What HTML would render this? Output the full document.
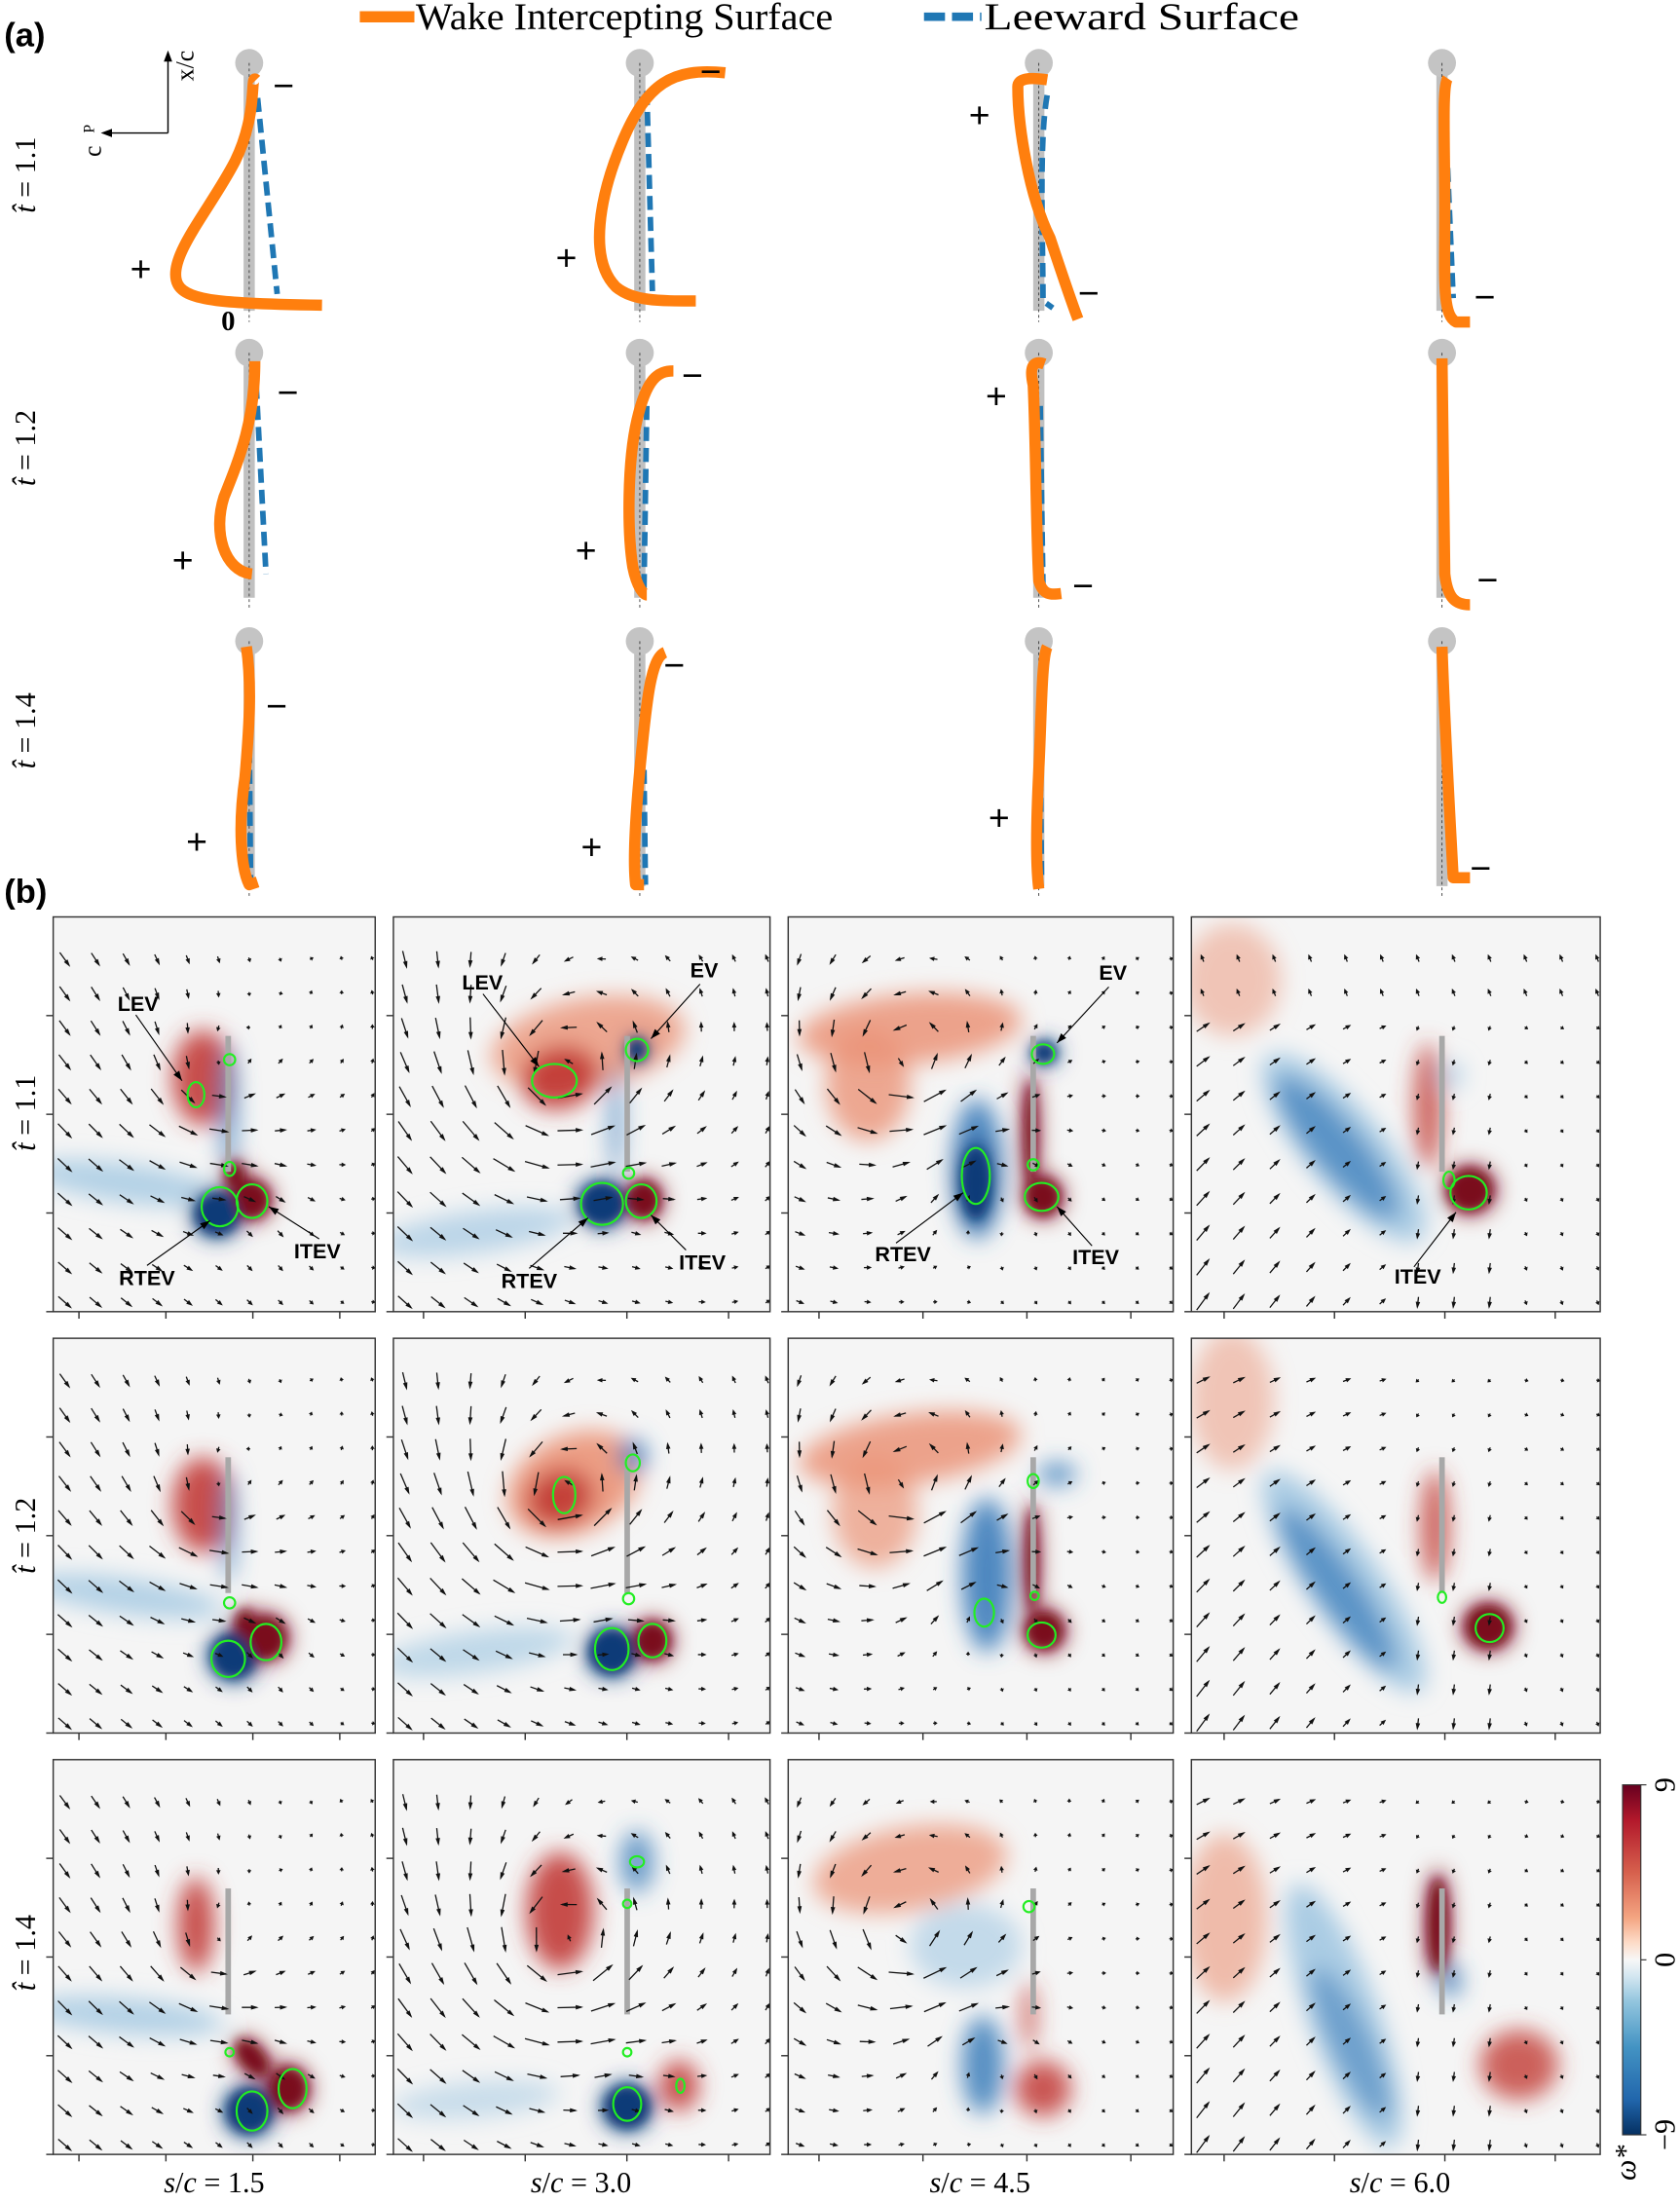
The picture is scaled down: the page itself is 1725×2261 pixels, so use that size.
<!DOCTYPE html>
<html><head><meta charset="utf-8"><style>
html,body{margin:0;padding:0;background:#fff;}
svg{display:block;}
</style></head><body>
<svg id="S" xmlns="http://www.w3.org/2000/svg" width="1725" height="2261" viewBox="0 0 1200 1573" preserveAspectRatio="none">
<defs>
<filter id="bl" x="-50%" y="-50%" width="200%" height="200%"><feGaussianBlur stdDeviation="8"/></filter>
<filter id="bs" x="-50%" y="-50%" width="200%" height="200%"><feGaussianBlur stdDeviation="4"/></filter>
<linearGradient id="cb" x1="0" y1="0" x2="0" y2="1">
<stop offset="0" stop-color="#67001f"/><stop offset="0.1" stop-color="#b2182b"/><stop offset="0.25" stop-color="#d6604d"/><stop offset="0.38" stop-color="#f4a582"/><stop offset="0.45" stop-color="#fddbc7"/><stop offset="0.5" stop-color="#f7f7f7"/><stop offset="0.55" stop-color="#d1e5f0"/><stop offset="0.62" stop-color="#92c5de"/><stop offset="0.75" stop-color="#4393c3"/><stop offset="0.9" stop-color="#2166ac"/><stop offset="1" stop-color="#053061"/>
</linearGradient>
</defs>
<g font-family="Liberation Serif, serif" fill="#000">
<text x="3" y="33" font-family="Liberation Sans, sans-serif" font-weight="bold" font-size="24">(a)</text>
<text x="3" y="645" font-family="Liberation Sans, sans-serif" font-weight="bold" font-size="24">(b)</text>
<line x1="257" y1="12" x2="296" y2="12" stroke="#ff7f0e" stroke-width="8"/>
<text x="297" y="21" font-size="27" textLength="298" lengthAdjust="spacingAndGlyphs">Wake Intercepting Surface</text>
<line x1="660" y1="12" x2="701" y2="12" stroke="#1f77b4" stroke-width="6" stroke-dasharray="15,5"/>
<text x="703" y="21" font-size="27" textLength="225" lengthAdjust="spacingAndGlyphs">Leeward Surface</text>
</g>
<g id="A"></g>
<g id="B"></g>
</svg>
<script>
var NS="http://www.w3.org/2000/svg";
function el(p,t,a,txt){var e=document.createElementNS(NS,t);for(var k in a)e.setAttribute(k,a[k]);if(txt!==undefined)e.textContent=txt;p.appendChild(e);return e;}
var A=document.getElementById('A'),B=document.getElementById('B');
function rlab(p,x,y,v){var g=el(p,'g',{transform:'translate('+x+','+y+') rotate(-90)'});
 var t=el(g,'text',{x:0,y:0,'text-anchor':'middle','font-family':'Liberation Serif, serif','font-size':'21'});
 el(t,'tspan',{'font-style':'italic'},'\u0074\u0302');el(t,'tspan',{},' = '+v);}
rlab(A,25,125,'1.1');rlab(A,25,320,'1.2');rlab(A,25,522,'1.4');
rlab(B,25,795,'1.1');rlab(B,25,1097,'1.2');rlab(B,25,1395,'1.4');
var px=[178,457,742,1030],rowsA=[[45,225],[252,430],[458,636]];
var OR={
'0,0':'M183,57 C178,52 185,80 168,115 C150,150 118,185 127,203 C133,215 160,217 230,218',
'0,1':'M518,52 C480,48 462,60 445,100 C428,140 420,185 440,205 C452,215 470,215 497,215',
'0,2':'M748,57 C735,55 727,56 727,62 C727,90 735,140 750,170 C760,200 765,215 770,228',
'0,3':'M1034,56 C1030,62 1032,100 1032,150 C1032,200 1030,225 1040,230 L1050,230',
'1,0':'M182,258 C182,300 172,325 160,355 C152,380 160,408 180,410',
'1,1':'M481,265 C470,265 462,270 455,300 C448,330 448,380 452,405 C455,420 460,425 462,425',
'1,2':'M746,260 C738,257 735,262 738,275 C740,320 740,380 742,415 C745,425 750,425 758,424',
'1,3':'M1030,256 C1031,300 1031,370 1032,410 C1034,428 1040,432 1050,432',
'2,0':'M176,462 C180,490 178,520 175,555 C170,590 172,620 178,632 L184,630',
'2,1':'M475,466 C465,470 462,500 458,540 C454,580 452,615 454,632 L460,632',
'2,2':'M748,462 C744,470 744,510 742,550 C740,590 740,620 742,635',
'2,3':'M1030,462 C1032,520 1036,590 1038,627 L1050,627'};
var BL={'0,0':'M184,70 L198,210','0,1':'M462,65 L466,208','0,2':'M748,68 C742,100 745,170 745,215 L752,220','0,3':'M1034,120 L1038,213',
'1,0':'M183,275 L190,410','1,1':'M462,290 L460,420','1,2':'M743,290 L745,420','1,3':'M1031,330 L1034,425',
'2,0':'M178,520 L179,632','2,1':'M460,550 L461,632','2,2':'M743,540 L744,630','2,3':'M1033,560 L1036,625'};
for(var r=0;r<3;r++)for(var c=0;c<4;c++){
 var x=px[c],t=rowsA[r][0],b=rowsA[r][1];
 el(A,'rect',{x:x-4,y:t,width:8,height:b-t-3,fill:'#c0c0c0'});
 el(A,'circle',{cx:x,cy:t,r:10,fill:'#c4c4c4'});
 el(A,'line',{x1:x,y1:t,x2:x,y2:b+5,stroke:'#333','stroke-width':0.6,'stroke-dasharray':'2,2'});
 el(A,'path',{d:BL[r+','+c],fill:'none',stroke:'#1f77b4','stroke-width':4,'stroke-dasharray':'10,5'});
 el(A,'path',{d:OR[r+','+c],fill:'none',stroke:'#ff7f0e','stroke-width':8,'stroke-linejoin':'round'});
}
var signs=[['−',195,70],['+',93,201],['−',500,60],['+',397,193],['+',692,91],['−',770,218],['−',1053,221],
['−',198,289],['+',123,409],['−',487,277],['+',411,402],['+',704,292],['−',766,427],['−',1055,423],
['−',190,513],['+',133,610],['−',474,484],['+',415,614],['+',706,593],['−',1050,629]];
signs.forEach(function(s){el(A,'text',{x:s[1],y:s[2],'font-family':'Liberation Sans, sans-serif','font-size':'26'},s[0]);});
el(A,'text',{x:158,y:236,'font-family':'Liberation Serif, serif','font-weight':'bold','font-size':'20'},'0');
el(A,'path',{d:'M120,95 L120,42 M120,95 L78,95',stroke:'#000','stroke-width':1,fill:'none'});
el(A,'path',{d:'M117,44 L120,36 L123,44Z M80,92 L72,95 L80,98Z',fill:'#000'});
var g1=el(A,'g',{transform:'translate(138,40) rotate(-90)'});el(g1,'text',{x:-18,y:0,'font-family':'Liberation Serif, serif','font-size':'18'},'x/c');
var g2=el(A,'g',{transform:'translate(72,112) rotate(-90)'});el(g2,'text',{x:0,y:0,'font-family':'Liberation Serif, serif','font-size':'18'},'c');
el(A,'text',{x:67,y:95,'font-family':'Liberation Serif, serif','font-size':'11',transform:'rotate(-90 67 95)'},'P');
var cols=[[38,268],[281,550],[563,838],[851,1143]],rows=[[655,937],[956,1238],[1257,1539]];
var plx=[163,448,738,1030];
var DR='#7a0a1c',RD='#c23b36',LR='#eb9478',DB='#0b3a78',BU='#3a7cba',LB='#a2c8e2';
var blobs={
'0,0':[[90,845,70,14,8,LB,0.8],[145,770,22,34,0,RD,0.9],[163,790,6,45,0,BU,0.8],[155,867,18,17,0,DB,1],[180,857,14,15,0,DR,1],[168,840,8,12,0,DR,0.8]],
'0,1':[[340,880,70,15,-8,LB,0.7],[420,745,70,32,-10,LR,0.8],[400,770,28,22,-15,RD,0.95],[455,750,8,10,0,DB,0.9],[440,800,5,40,0,BU,0.7],[430,860,18,17,0,DB,1],[460,857,13,15,0,DR,1]],
'0,2':[[650,735,80,25,-5,LR,0.85],[620,775,30,40,0,LR,0.8],[698,835,18,50,0,BU,0.9],[697,845,12,30,0,DB,0.9],[736,810,5,45,0,DR,1],[746,752,10,9,0,DB,0.9],[745,855,14,15,0,DR,1]],
'0,3':[[880,700,35,40,0,LR,0.5],[960,820,28,85,-40,LB,0.9],[955,820,18,65,-40,BU,0.7],[1020,790,10,45,0,RD,0.8],[1050,850,18,17,0,DR,1],[1037,768,8,10,0,LB,0.7]],
'1,0':[[90,1140,70,13,8,LB,0.8],[145,1075,22,34,0,RD,0.9],[163,1090,5,40,0,BU,0.8],[167,1183,18,18,0,DB,1],[190,1170,16,17,0,DR,1],[175,1160,8,12,0,DR,0.8]],
'1,1':[[340,1180,70,15,-8,LB,0.65],[410,1060,50,35,-25,LR,0.9],[400,1070,24,20,-20,RD,0.95],[452,1040,10,12,0,BU,0.9],[437,1180,18,18,0,DB,1],[466,1172,14,15,0,DR,1]],
'1,2':[[650,1035,80,25,-8,LR,0.85],[625,1080,30,40,0,LR,0.7],[705,1125,18,55,0,BU,0.9],[737,1115,5,45,0,DR,0.9],[746,1165,15,15,0,DR,1],[755,1053,14,8,0,BU,0.8]],
'1,3':[[880,1000,30,50,0,LR,0.5],[960,1130,26,95,-35,LB,0.9],[955,1135,16,70,-35,BU,0.7],[1025,1090,10,40,0,RD,0.8],[1063,1162,18,17,0,DR,1]],
'2,0':[[90,1440,70,13,5,LB,0.8],[140,1375,13,34,0,RD,0.9],[180,1470,10,18,-40,DR,0.8],[178,1508,18,18,0,DB,1],[206,1492,15,17,0,DR,1]],
'2,1':[[340,1500,60,13,-5,LB,0.55],[400,1365,24,42,0,RD,0.9],[455,1330,12,22,0,BU,0.75],[448,1505,18,17,0,DB,1],[485,1490,14,18,0,RD,0.9]],
'2,2':[[650,1335,70,30,-10,LR,0.75],[690,1390,40,30,0,LB,0.6],[702,1475,15,35,0,BU,0.85],[735,1440,5,25,0,RD,0.8],[745,1492,20,20,0,RD,0.85]],
'2,3':[[875,1370,30,60,0,LR,0.6],[960,1440,25,100,-20,LB,0.9],[965,1460,15,60,-25,BU,0.55],[1027,1375,8,40,0,DR,0.9],[1085,1475,28,25,0,RD,0.8],[1036,1415,8,12,0,BU,0.8]]};
var greens={
'0,0':[[140,782,6,9],[157,862,13,14],[180,858,11,12],[164,757,4,4],[164,835,4,5]],
'0,1':[[396,772,16,12],[455,750,8,8],[430,860,15,15],[458,858,11,12],[449,838,4,4]],
'0,2':[[697,840,10,20],[745,753,8,7],[744,855,12,10],[738,832,4,4]],
'0,3':[[1049,852,13,12],[1035,843,4,6]],
'1,0':[[164,1145,4,4],[163,1185,12,13],[190,1173,11,13]],
'1,1':[[403,1068,8,13],[452,1045,5,6],[437,1178,12,15],[466,1172,10,12],[449,1142,4,4]],
'1,2':[[703,1152,7,10],[744,1168,10,9],[738,1058,4,5],[739,1140,3,3]],
'1,3':[[1064,1163,10,10],[1030,1141,3,4]],
'2,0':[[164,1466,3,3],[180,1508,11,14],[209,1492,10,14]],
'2,1':[[455,1330,5,4],[448,1360,3,3],[448,1466,3,3],[448,1503,10,12],[486,1490,3,5]],
'2,2':[[735,1362,4,4]],
'2,3':[]};
var vort={
'0':{v:[[150,775,-0.8],[170,860,0.4]],b:[0.9,0.9]},
'1':{v:[[400,770,-2],[440,860,0.5]],b:[0.7,0.8]},
'2':{v:[[650,760,-2.2],[700,840,1.2]],b:[0.2,0.3]},
'3':{v:[],b:[0,0]}};
var cl=0;
for(var r=0;r<3;r++)for(var c=0;c<4;c++){
 var x0=cols[c][0],x1=cols[c][1],y0=rows[r][0],y1=rows[r][1],key=r+','+c;
 var id='cp'+(cl++);var cp=el(B,'clipPath',{id:id});el(cp,'rect',{x:x0,y:y0,width:x1-x0,height:y1-y0});
 el(B,'rect',{x:x0,y:y0,width:x1-x0,height:y1-y0,fill:'#f5f5f5'});
 var g=el(B,'g',{'clip-path':'url(#'+id+')'});
 var gb=el(g,'g',{filter:'url(#bl)'});
 blobs[key].forEach(function(o){el(gb,'ellipse',{cx:o[0],cy:o[1],rx:o[2],ry:o[3],fill:o[5],opacity:o[6],transform:'rotate('+o[4]+' '+o[0]+' '+o[1]+')'});});
 var gs=el(g,'g',{filter:'url(#bs)'});
 blobs[key].forEach(function(o){if(o[5]==DR||o[5]==DB)el(gs,'ellipse',{cx:o[0],cy:o[1],rx:o[2]*0.85,ry:o[3]*0.85,fill:o[5],transform:'rotate('+o[4]+' '+o[0]+' '+o[1]+')'});});
 var pt=y0+(r==2?92:85),pb=y0+182;
 el(g,'rect',{x:plx[c]-2,y:pt,width:4,height:pb-pt,fill:'#a8a8a8'});
 var V=vort[c];
 var oy=(rows[r][0]-655);
 for(var ax=x0+8;ax<x1;ax+=(x1-x0-10)/(c==0?10:11))for(var ay=y0+30;ay<y1-5;ay+=24.5){
  var u=V.b[0],v=V.b[1];
  var rel=(ax-x0)/(x1-x0),relY=(ay-y0)/(y1-y0);
  if(c<2){u*=1.1-rel*1.1;v*=1.1-rel*1.1;}
  V.v.forEach(function(q){var qx=q[0],qy=q[1]+oy+(r==2?20:0);var ddx=ax-qx,ddy=ay-qy,rr=ddx*ddx+ddy*ddy+900;u+=-q[2]*ddy*60/rr;v+=q[2]*ddx*60/rr;});
  if(c==2){u*=(1-rel*0.85);v*=(1-rel*0.85);}
  if(c==3){
   if(rel<0.55){var f=(1-rel*1.6);u=0.9*f+0.2;v=-1.1*f*(0.4+relY);}
   else if(rel<0.75){u=-0.1;v=0.9*relY;}
   else {u=0.1;v=0.25*relY;}
   if(r==0&&relY<0.2){u=-0.2;v=-0.5;}
  }
  var m=Math.sqrt(u*u+v*v),L=Math.min(m*8,17);if(L<1.5)L=1.5;
  var ux=u/(m||1),vy=v/(m||1);
  var sx=ax-ux*L/2,sy=ay-vy*L/2,ex=ax+ux*L/2,ey=ay+vy*L/2;
  el(g,'line',{x1:sx,y1:sy,x2:ex,y2:ey,stroke:'#111','stroke-width':0.9});
  var h=Math.min(4,L*0.5),w=1.6;
  el(g,'path',{d:'M'+(ex+ux*1.5)+','+(ey+vy*1.5)+' L'+(ex-ux*h-vy*w)+','+(ey-vy*h+ux*w)+' L'+(ex-ux*h+vy*w)+','+(ey-vy*h-ux*w)+'Z',fill:'#111'});
 }
 greens[key].forEach(function(o){el(g,'ellipse',{cx:o[0],cy:o[1],rx:o[2],ry:o[3],fill:'none',stroke:'#22ee22','stroke-width':1.5});});
 el(B,'rect',{x:x0,y:y0,width:x1-x0,height:y1-y0,fill:'none',stroke:'#333','stroke-width':1});
 [0.25,0.5,0.75].forEach(function(f){var ty=y0+(y1-y0)*f;el(B,'line',{x1:x0-5,y1:ty,x2:x0,y2:ty,stroke:'#333','stroke-width':1});});
 el(B,'line',{x1:x0-5,y1:y1,x2:x0,y2:y1,stroke:'#333','stroke-width':1});
 for(var i=0;i<4;i++){var tx=x0+(x1-x0)*(0.08+0.27*i);el(B,'line',{x1:tx,y1:y1,x2:tx,y2:y1+5,stroke:'#333','stroke-width':1});}
}
function lab(t,x,y){el(B,'text',{x:x,y:y,'font-family':'Liberation Sans, sans-serif','font-weight':'bold','font-size':'15'},t);}
function arr(x1,y1,x2,y2){el(B,'line',{x1:x1,y1:y1,x2:x2,y2:y2,stroke:'#000','stroke-width':0.8});
 var dx=x2-x1,dy=y2-y1,m=Math.sqrt(dx*dx+dy*dy);dx/=m;dy/=m;
 el(B,'path',{d:'M'+x2+','+y2+' L'+(x2-dx*7-dy*2.5)+','+(y2-dy*7+dx*2.5)+' L'+(x2-dx*7+dy*2.5)+','+(y2-dy*7-dx*2.5)+'Z',fill:'#000'});}
lab('LEV',84,722);arr(97,725,130,772);lab('RTEV',85,918);arr(105,904,150,872);lab('ITEV',210,899);arr(228,885,192,862);
lab('LEV',330,707);arr(345,710,385,762);lab('EV',493,698);arr(500,703,465,742);lab('RTEV',358,920);arr(378,906,420,870);lab('ITEV',485,907);arr(490,893,465,868);
lab('EV',785,700);arr(792,705,755,745);lab('RTEV',625,901);arr(640,888,688,852);lab('ITEV',766,903);arr(780,890,755,862);
lab('ITEV',996,917);arr(1010,905,1040,866);
[['1.5',153],['3.0',415],['4.5',700],['6.0',1000]].forEach(function(s){var t=el(B,'text',{x:s[1],y:1566,'text-anchor':'middle','font-family':'Liberation Serif, serif','font-size':'21'});
 el(t,'tspan',{'font-style':'italic'},'s');el(t,'tspan',{},'/');el(t,'tspan',{'font-style':'italic'},'c');el(t,'tspan',{},' = '+s[0]);});
el(B,'rect',{x:1159,y:1275,width:13,height:250,fill:'url(#cb)',stroke:'#333','stroke-width':0.8});
[[1275,'9'],[1400,'0'],[1525,'−9']].forEach(function(s){el(B,'line',{x1:1172,y1:s[0],x2:1176,y2:s[0],stroke:'#333','stroke-width':0.8});
 var g=el(B,'g',{transform:'translate(1180,'+s[0]+') rotate(-90)'});el(g,'text',{x:0,y:16,'text-anchor':'middle','font-family':'Liberation Serif, serif','font-size':'21'},s[1]);});
var gw=el(B,'g',{transform:'translate(1168,1545) rotate(-90)'});el(gw,'text',{x:0,y:0,'text-anchor':'middle','font-family':'Liberation Serif, serif','font-style':'italic','font-size':'21'},'ω*');
</script>
</body></html>
